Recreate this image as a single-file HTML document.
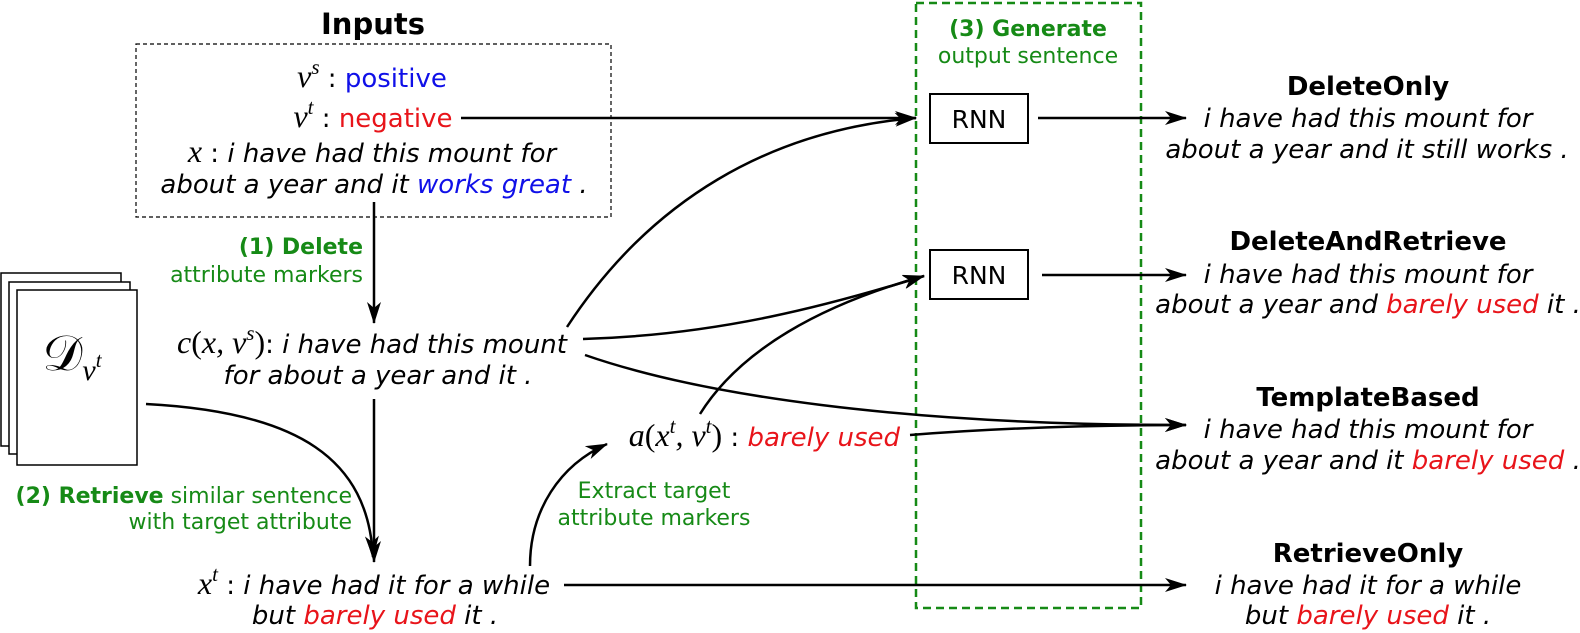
<!DOCTYPE html>
<html><head><meta charset="utf-8"><style>
body{margin:0;background:#fff}
svg{display:block}
text{font-family:"DejaVu Sans","Liberation Sans",sans-serif;font-size:26px}
.i{font-style:italic}
.m{font-family:"Liberation Serif",serif;font-style:italic;font-size:32px}
.b{font-weight:bold}
.g{fill:#168a16;font-size:22px}
.r{fill:#e8141a}
.bl{fill:#1010e8}
.h{font-weight:bold;font-size:26px}
</style></head><body>
<svg width="1580" height="633" viewBox="0 0 1580 633" xmlns="http://www.w3.org/2000/svg">
<defs>
<marker id="ah" viewBox="0 0 22 14" markerWidth="22" markerHeight="14" refX="21" refY="7" orient="auto" markerUnits="userSpaceOnUse"><path d="M0,0 L22,7 L0,14 L6,7 z" fill="#000"/></marker></defs>
<g stroke="#000" stroke-width="2.5" fill="none">
<rect x="1" y="273" width="120" height="173" fill="#fff" stroke-width="1.5"/>
<rect x="9" y="282" width="121" height="172" fill="#fff" stroke-width="1.5"/>
<rect x="17" y="290" width="120" height="175" fill="#fff" stroke-width="1.5"/>
<rect x="136" y="44" width="475" height="173" stroke-width="1.2" stroke-dasharray="4,3"/>
<rect x="916" y="3" width="225" height="605" stroke="#168a16" stroke-dasharray="8,5"/>
<rect x="930" y="94" width="98" height="49" stroke-width="2"/>
<rect x="930" y="250" width="98" height="49" stroke-width="2"/>
<g marker-end="url(#ah)">
<path d="M374,202 L374,323"/>
<path d="M374,399 L374,562"/>
<path d="M146,404 C300,412 368,460 373,557"/>
<path d="M461,118 L916,118"/>
<path d="M1038,118 L1186,118"/>
<path d="M1042,275 L1186,275"/>
<path d="M567,327 C650,200 770,130 916,118"/>
<path d="M583,339 C720,335 830,305 924,276"/>
<path d="M585,355 C700,395 900,425 1186,425"/>
<path d="M700,414 C740,350 820,305 924,276"/>
<path d="M910,435 C1000,428 1100,425 1186,425"/>
<path d="M530,566 C530,510 560,465 607,444"/>
<path d="M564,585 L1186,585"/>
</g>
</g>
<text x="373" y="34" text-anchor="middle" class="b" style="font-size:29px">Inputs</text>
<text x="372" y="87" text-anchor="middle"><tspan class="m">v</tspan><tspan class="m" dy="-13" style="font-size:21px">s</tspan><tspan dy="13"> : </tspan><tspan class="bl">positive</tspan></text>
<text x="373" y="127" text-anchor="middle"><tspan class="m">v</tspan><tspan class="m" dy="-13" style="font-size:21px">t</tspan><tspan dy="13"> : </tspan><tspan class="r">negative</tspan></text>
<text x="372" y="162" text-anchor="middle"><tspan class="m">x</tspan><tspan> : </tspan><tspan class="i">i have had this mount for</tspan></text>
<text x="374" y="193" text-anchor="middle" class="i">about a year and it <tspan class="bl">works great</tspan> .</text>
<text x="363" y="254" text-anchor="end" class="g b">(1) Delete</text>
<text x="363" y="282" text-anchor="end" class="g">attribute markers</text>
<text x="72" y="370" text-anchor="middle" style="font-size:50px;font-family:'DejaVu Serif',serif">𝒟<tspan class="m" dy="10" style="font-size:30px">v</tspan><tspan class="m" dy="-13" style="font-size:21px">t</tspan></text>
<text x="372" y="353" text-anchor="middle"><tspan class="m">c</tspan><tspan class="m" style="font-style:normal">(</tspan><tspan class="m">x, v</tspan><tspan class="m" dy="-13" style="font-size:21px">s</tspan><tspan class="m" dy="13" style="font-style:normal">)</tspan><tspan>: </tspan><tspan class="i">i have had this mount</tspan></text>
<text x="378" y="384" text-anchor="middle" class="i">for about a year and it .</text>
<text x="352" y="503" text-anchor="end" class="g"><tspan class="b">(2) Retrieve</tspan> similar sentence</text>
<text x="352" y="529" text-anchor="end" class="g">with target attribute</text>
<text x="374" y="594" text-anchor="middle"><tspan class="m">x</tspan><tspan class="m" dy="-13" style="font-size:21px">t</tspan><tspan dy="13"> : </tspan><tspan class="i">i have had it for a while</tspan></text>
<text x="375" y="624" text-anchor="middle" class="i">but <tspan class="r">barely used</tspan> it .</text>
<text x="900" y="446" text-anchor="end"><tspan class="m">a</tspan><tspan class="m" style="font-style:normal">(</tspan><tspan class="m">x</tspan><tspan class="m" dy="-13" style="font-size:21px">t</tspan><tspan class="m" dy="13">, v</tspan><tspan class="m" dy="-13" style="font-size:21px">t</tspan><tspan class="m" dy="13" style="font-style:normal">)</tspan><tspan> : </tspan><tspan class="i r">barely used</tspan></text>
<text x="654" y="498" text-anchor="middle" class="g">Extract target</text>
<text x="654" y="525" text-anchor="middle" class="g">attribute markers</text>
<text x="1028" y="36" text-anchor="middle" class="g b">(3) Generate</text>
<text x="1028" y="63" text-anchor="middle" class="g">output sentence</text>
<text x="979" y="128" text-anchor="middle" style="font-size:25px">RNN</text>
<text x="979" y="284" text-anchor="middle" style="font-size:25px">RNN</text>
<g text-anchor="middle">
<text x="1368" y="95" class="h">DeleteOnly</text>
<text x="1368" y="127" class="i">i have had this mount for</text>
<text x="1367" y="158" class="i">about a year and it still works .</text>
<text x="1368" y="250" class="h">DeleteAndRetrieve</text>
<text x="1368" y="283" class="i">i have had this mount for</text>
<text x="1368" y="313" class="i">about a year and <tspan class="r">barely used</tspan> it .</text>
<text x="1368" y="406" class="h">TemplateBased</text>
<text x="1368" y="438" class="i">i have had this mount for</text>
<text x="1368" y="469" class="i">about a year and it <tspan class="r">barely used</tspan> .</text>
<text x="1368" y="562" class="h">RetrieveOnly</text>
<text x="1368" y="594" class="i">i have had it for a while</text>
<text x="1368" y="624" class="i">but <tspan class="r">barely used</tspan> it .</text>
</g>
</svg>
</body></html>
